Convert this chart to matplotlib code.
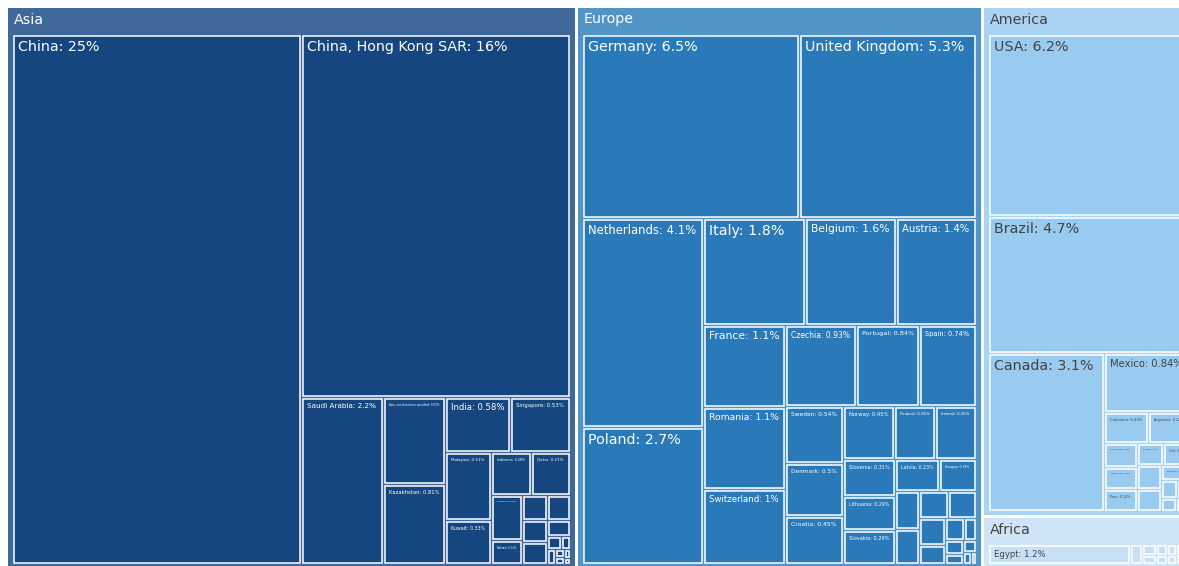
import matplotlib
matplotlib.use("Agg")
import matplotlib.pyplot as plt
from matplotlib.patches import Rectangle
from matplotlib.font_manager import FontProperties
from matplotlib.textpath import TextToPath

# ---------------- data (share of total, %) ----------------
continents = ["Asia", "Europe", "America", "Africa"]

asia_names = ["China", "China, Hong Kong SAR", "Saudi Arabia", "Asia, not elsewhere specified",
              "Kazakhstan", "India", "Singapore", "Malaysia", "Kuwait", "Indonesia", "Qatar",
              "Thailand", "Bahrain", "Cyprus", "United Arab Emirates", "Viet Nam", "Japan",
              "Uzbekistan", "Lebanon", "Israel", "Jordan", "Oman", "Philippines", "Georgia", "Armenia"]
asia_values = [24.8, 15.8, 2.2, 0.87, 0.81, 0.58, 0.53, 0.51, 0.33, 0.28, 0.27,
               0.23, 0.12, 0.10, 0.094, 0.09, 0.09,
               0.057, 0.03, 0.02, 0.018, 0.012, 0.01, 0.008, 0.006]

europe_names = ["Germany", "United Kingdom", "Netherlands", "Poland", "Italy", "Belgium", "Austria",
                "France", "Romania", "Switzerland", "Czechia", "Portugal", "Spain", "Sweden",
                "Denmark", "Croatia", "Norway", "Finland", "Ireland", "Slovenia", "Lithuania",
                "Slovakia", "Latvia", "Hungary", "Ukraine", "Greece", "Luxembourg",
                "Bulgaria", "Estonia", "Serbia", "Belarus", "Malta", "Iceland",
                "North Macedonia", "Albania", "Montenegro", "Rep. of Moldova"]
europe_values = [6.5, 5.3, 4.1, 2.7, 1.8, 1.6, 1.4,
                 1.1, 1.1, 1.0, 0.93, 0.84, 0.74, 0.54,
                 0.5, 0.45, 0.45, 0.36, 0.35, 0.31, 0.29,
                 0.29, 0.23, 0.19, 0.15, 0.14, 0.13,
                 0.12, 0.11, 0.08, 0.066, 0.042, 0.042,
                 0.03, 0.025, 0.016, 0.01]

america_names = ["USA", "Brazil", "Canada", "Mexico", "Colombia", "Argentina", "El Salvador",
                 "Costa Rica", "Peru", "Ecuador", "Chile", "Guatemala", "Dominican Rep.",
                 "Panama", "Uruguay", "Paraguay", "Honduras", "Bolivia", "Jamaica"]
america_values = [6.2, 4.7, 3.1, 0.84, 0.23, 0.22, 0.13,
                  0.12, 0.12, 0.10, 0.10, 0.10, 0.09,
                  0.07, 0.05, 0.04, 0.03, 0.02, 0.01]

africa_names = ["Egypt", "Morocco", "South Africa", "Algeria", "Tunisia", "Nigeria", "Kenya",
                "Ghana", "Libya", "Ethiopia", "Sudan", "Senegal", "Tanzania"]
africa_values = [1.2, 0.1, 0.06, 0.055, 0.05, 0.045, 0.04,
                 0.035, 0.03, 0.025, 0.02, 0.02, 0.02]

children = {
    "Asia": (asia_names, asia_values),
    "Europe": (europe_names, europe_values),
    "America": (america_names, america_values),
    "Africa": (africa_names, africa_values),
}

# ---------------- style ----------------
header_color = {"Asia": "#41689b", "Europe": "#5094c8", "America": "#aad2f2", "Africa": "#cfe4f7"}
leaf_color = {"Asia": "#16467f", "Europe": "#2a7ab9", "America": "#99caef", "Africa": "#c8e0f5"}
text_color = {"Asia": "white", "Europe": "white", "America": "#444444", "Africa": "#444444"}

FIG_W, FIG_H = 1179, 566
DPI = 100
DOMAIN = (6.25, 6.25, 1196.5, 569.75)   # treemap domain in pixels (x0, y0, x1, y1)
TOP_GAP = 1.75        # half gap between top-level tiles
PAD_T, PAD_L, PAD_R, PAD_B = 26.5, 4.5, 4.5, 3.5
LEAF_INSET = 1.5
MAX_FS_PX = 14.2


def squarify(values, x0, y0, x1, y1, ratio=1.0):
    """d3-hierarchy squarify tiling (values sorted descending)."""
    n = len(values)
    rects = [None] * n
    i0 = i1 = 0
    value = float(sum(values))
    while i0 < n:
        dx, dy = x1 - x0, y1 - y0
        sumv = values[i1]
        i1 += 1
        minv = maxv = sumv
        alpha = max(dy / dx, dx / dy) / (value * ratio)
        beta = sumv * sumv * alpha
        minratio = max(maxv / beta, beta / minv)
        while i1 < n:
            nv = values[i1]
            sumv += nv
            minv = min(minv, nv)
            maxv = max(maxv, nv)
            beta = sumv * sumv * alpha
            newratio = max(maxv / beta, beta / minv)
            if newratio > minratio:
                sumv -= nv
                break
            minratio = newratio
            i1 += 1
        row = range(i0, i1)
        if dx < dy:
            h = dy * sumv / value
            xx = x0
            for i in row:
                w = dx * values[i] / sumv
                rects[i] = (xx, y0, xx + w, y0 + h)
                xx += w
            y0 += h
        else:
            w = dx * sumv / value
            yy = y0
            for i in row:
                h = dy * values[i] / sumv
                rects[i] = (x0, yy, x0 + w, yy + h)
                yy += h
            x0 += w
        value -= sumv
        i0 = i1
    return rects


ttp = TextToPath()
fp100 = FontProperties(family="DejaVu Sans", size=100)


def em_width(s):
    w, h, d = ttp.get_text_width_height_descent(s, fp100, ismath=False)
    return w / 100.0


fig = plt.figure(figsize=(FIG_W / DPI, FIG_H / DPI), dpi=DPI)
ax = fig.add_axes([0, 0, 1, 1])
ax.set_xlim(0, FIG_W)
ax.set_ylim(FIG_H, 0)
ax.axis("off")

totals = [sum(children[c][1]) for c in continents]
top_rects = squarify(totals, *DOMAIN)

for cont, (cx0, cy0, cx1, cy1) in zip(continents, top_rects):
    px0, py0, px1, py1 = cx0 + TOP_GAP, cy0 + TOP_GAP, cx1 - TOP_GAP, cy1 - TOP_GAP
    ax.add_patch(Rectangle((px0, py0), px1 - px0, py1 - py0,
                           facecolor=header_color[cont], edgecolor="none", zorder=1))
    ax.text(px0 + 5.5, py0 + 4.5, cont, fontsize=MAX_FS_PX * 0.72, family="DejaVu Sans",
            color=text_color[cont], ha="left", va="top", zorder=3)
    names, vals = children[cont]
    order = sorted(range(len(vals)), key=lambda i: -vals[i])
    svals = [vals[i] for i in order]
    rects = squarify(svals, px0 + PAD_L, py0 + PAD_T, px1 - PAD_R, py1 - PAD_B)
    for idx, (lx0, ly0, lx1, ly1) in zip(order, rects):
        bx0, by0, bx1, by1 = lx0 + LEAF_INSET, ly0 + LEAF_INSET, lx1 - LEAF_INSET, ly1 - LEAF_INSET
        bw, bh = bx1 - bx0, by1 - by0
        ax.add_patch(Rectangle((bx0, by0), bw, bh, facecolor=leaf_color[cont],
                               edgecolor="white", linewidth=1.1, zorder=2))
        label = f"{names[idx]}: {vals[idx]:.2g}%"
        fs_px = min(MAX_FS_PX, (bw - 9) / em_width(label), (bh - 7) / 1.15)
        if fs_px >= 2.0:
            ax.text(bx0 + 4, by0 + 4, label, fontsize=fs_px * 0.72, family="DejaVu Sans",
                    color=text_color[cont], ha="left", va="top", zorder=3, clip_on=True)

fig.savefig("out.png", dpi=DPI, facecolor="white")
